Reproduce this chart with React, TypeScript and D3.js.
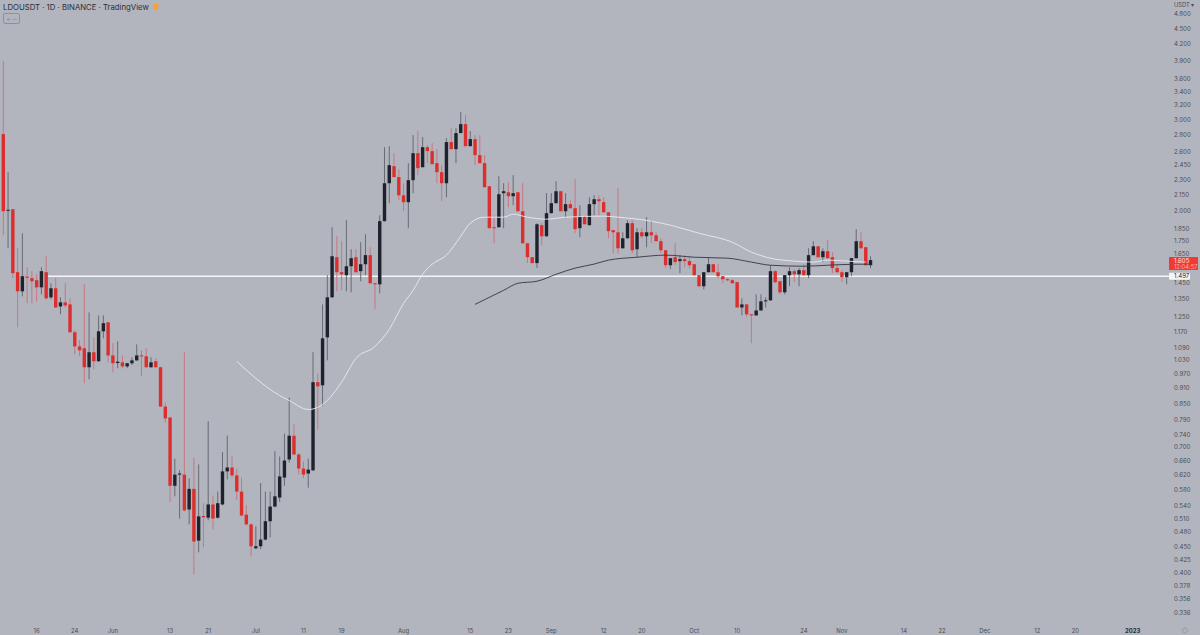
import React from "react";
import * as d3 from "d3";

const opens = [2.815,2.003,2.016,1.524,1.400,1.494,1.484,1.471,1.425,1.524,1.363,1.419,1.309,1.333,1.321,1.167,1.096,1.087,0.999,1.068,1.026,1.172,1.220,1.053,1.018,1.021,1.003,1.017,1.030,1.053,1.049,0.999,1.026,0.999,0.839,0.799,0.590,0.620,0.620,0.531,0.582,0.4625,0.516,0.512,0.543,0.512,0.543,0.629,0.640,0.618,0.575,0.519,0.497,0.447,0.451,0.4646,0.504,0.538,0.560,0.612,0.663,0.737,0.678,0.637,0.623,0.632,0.935,0.922,1.141,1.363,1.629,1.524,1.504,1.565,1.629,1.531,1.579,1.644,1.451,1.444,1.912,2.263,2.441,2.325,2.145,2.080,2.294,2.586,2.430,2.656,2.610,2.474,2.377,2.263,2.717,2.633,2.828,2.943,2.668,2.753,2.564,2.474,2.233,1.861,1.861,2.165,2.174,2.136,2.174,1.998,1.733,1.629,1.587,1.878,1.788,1.981,2.071,2.184,1.998,2.062,2.025,1.853,1.955,1.878,2.062,2.108,2.080,1.989,1.837,1.820,1.695,1.772,1.895,1.688,1.820,1.788,1.820,1.796,1.749,1.680,1.572,1.629,1.601,1.615,1.601,1.579,1.504,1.432,1.524,1.579,1.524,1.497,1.477,1.471,1.458,1.303,1.321,1.264,1.258,1.286,1.339,1.345,1.531,1.464,1.394,1.504,1.531,1.510,1.538,1.504,1.644,1.710,1.629,1.673,1.629,1.552,1.524,1.491,1.524,1.622,1.749,1.703,1.572];
const highs = [3.894,2.377,2.018,1.695,1.812,1.558,1.531,1.510,1.558,1.636,1.451,1.484,1.363,1.451,1.357,1.177,1.126,1.444,1.275,1.141,1.258,1.258,1.222,1.111,1.121,1.053,1.019,1.044,1.106,1.077,1.087,1.044,1.039,1.001,0.854,0.801,0.666,0.632,1.068,0.610,0.669,0.649,0.546,0.786,0.565,0.575,0.685,0.737,0.675,0.637,0.612,0.541,0.499,0.493,0.597,0.575,0.575,0.688,0.672,0.744,0.873,0.775,0.682,0.657,0.666,1.068,0.973,1.321,1.504,1.861,1.788,1.749,1.920,1.688,1.688,1.741,1.804,1.703,1.453,1.963,2.656,2.668,2.586,2.409,2.263,2.474,2.803,2.853,2.778,2.680,2.705,2.633,2.452,2.765,2.891,2.891,3.105,3.063,2.853,2.803,2.803,2.564,2.235,1.963,2.335,2.263,2.274,2.346,2.176,2.263,1.735,1.631,1.895,1.895,2.165,2.165,2.284,2.186,2.165,2.098,2.304,2.053,1.957,2.126,2.145,2.145,2.126,1.991,1.839,2.214,1.820,1.920,1.920,1.853,1.853,1.946,1.920,1.820,1.772,1.682,1.624,1.733,1.644,1.644,1.636,1.581,1.506,1.526,1.629,1.581,1.579,1.499,1.484,1.477,1.460,1.357,1.323,1.266,1.381,1.381,1.363,1.572,1.538,1.466,1.506,1.558,1.545,1.552,1.579,1.695,1.749,1.712,1.695,1.757,1.666,1.579,1.538,1.526,1.624,1.845,1.820,1.705,1.636];
const lows = [1.796,1.695,1.484,1.193,1.369,1.327,1.327,1.339,1.381,1.350,1.351,1.300,1.264,1.303,1.165,1.058,1.049,0.930,0.947,0.990,1.024,1.136,1.021,0.977,0.995,0.995,0.995,1.008,1.028,0.960,0.997,0.997,0.997,0.837,0.782,0.549,0.563,0.510,0.526,0.497,0.398,0.439,0.449,0.506,0.486,0.510,0.541,0.607,0.612,0.5535,0.515,0.495,0.431,0.445,0.445,0.463,0.469,0.536,0.549,0.590,0.654,0.676,0.620,0.610,0.585,0.630,0.758,0.843,1.030,1.360,1.400,1.406,1.400,1.394,1.522,1.464,1.504,1.449,1.292,1.387,1.910,2.071,2.323,2.098,1.998,1.853,2.165,2.346,2.428,2.474,2.461,2.263,2.089,2.126,2.631,2.474,2.826,2.666,2.666,2.452,2.472,2.221,1.851,1.733,1.859,1.853,2.034,2.053,1.996,1.731,1.587,1.585,1.552,1.718,1.786,1.979,2.069,1.996,1.946,2.023,1.812,1.780,1.884,1.876,1.963,1.963,1.987,1.772,1.658,1.658,1.693,1.770,1.658,1.629,1.772,1.703,1.733,1.747,1.658,1.552,1.545,1.572,1.518,1.558,1.552,1.502,1.425,1.412,1.522,1.522,1.484,1.451,1.464,1.449,1.301,1.258,1.252,1.111,1.256,1.284,1.303,1.343,1.451,1.381,1.381,1.432,1.458,1.432,1.502,1.484,1.642,1.627,1.594,1.620,1.518,1.522,1.458,1.444,1.497,1.620,1.693,1.570,1.552];
const closes = [1.998,2.011,1.518,1.400,1.497,1.487,1.464,1.425,1.531,1.357,1.419,1.303,1.333,1.315,1.167,1.096,1.077,0.999,1.068,1.026,1.172,1.215,1.053,1.017,1.024,1.003,1.017,1.030,1.053,1.049,0.999,1.021,0.999,0.839,0.796,0.590,0.620,0.623,0.529,0.582,0.4605,0.515,0.513,0.543,0.510,0.546,0.629,0.640,0.618,0.575,0.517,0.497,0.451,0.451,0.4646,0.504,0.538,0.563,0.615,0.660,0.737,0.678,0.637,0.620,0.634,0.935,0.918,1.136,1.363,1.636,1.524,1.510,1.565,1.622,1.524,1.579,1.644,1.451,1.444,1.912,2.263,2.452,2.325,2.145,2.080,2.294,2.586,2.420,2.656,2.610,2.463,2.377,2.263,2.717,2.633,2.828,2.943,2.668,2.753,2.564,2.474,2.223,1.853,1.853,2.155,2.184,2.136,2.165,1.998,1.733,1.629,1.587,1.886,1.788,1.981,2.071,2.184,1.998,2.062,2.025,1.845,1.955,1.886,2.062,2.108,2.089,1.989,1.829,1.820,1.695,1.772,1.895,1.680,1.820,1.788,1.820,1.796,1.749,1.680,1.572,1.622,1.594,1.615,1.601,1.572,1.504,1.432,1.524,1.579,1.524,1.497,1.477,1.471,1.451,1.303,1.321,1.264,1.258,1.286,1.339,1.345,1.531,1.458,1.394,1.504,1.531,1.510,1.538,1.504,1.644,1.710,1.629,1.673,1.622,1.552,1.524,1.491,1.524,1.622,1.749,1.695,1.572,1.608];

const maFastDays = [49,53,58,60,64,66,68,71,74,78,81,84,86,88,90,93,96,98,101,105,107,110,114,118,126,129,136,140,146,153,157,161,166,170,173,177,181];
const maFastValues = [1.026,0.951,0.881,0.862,0.828,0.836,0.862,0.935,1.039,1.096,1.182,1.327,1.406,1.510,1.579,1.644,1.788,1.895,1.946,1.946,1.972,1.946,1.929,1.946,1.955,1.946,1.912,1.878,1.812,1.741,1.666,1.622,1.601,1.594,1.608,1.601,1.594];
const maSlowDays = [99,102,105,108,112,116,120,124,127,133,139,145,152,157,161,168,173,179,182];
const maSlowValues = [1.321,1.363,1.406,1.451,1.464,1.510,1.552,1.580,1.608,1.629,1.644,1.629,1.622,1.594,1.572,1.565,1.572,1.579,1.579];

const priceTicks = [4.8,4.5,4.2,3.9,3.6,3.4,3.2,3.0,2.8,2.6,2.45,2.3,2.15,2.0,1.85,1.75,1.65,1.45,1.35,1.25,1.17,1.09,1.03,0.97,0.91,0.85,0.79,0.74,0.7,0.66,0.62,0.58,0.54,0.51,0.48,0.45,0.425,0.4,0.378,0.356,0.336];
const dateLabels: [string, string, boolean][] = [
  ["2022-05-16","16",false],["2022-05-24","24",false],["2022-06-01","Jun",false],["2022-06-13","13",false],["2022-06-21","21",false],["2022-07-01","Jul",false],["2022-07-11","11",false],["2022-07-19","19",false],["2022-08-01","Aug",false],["2022-08-15","15",false],["2022-08-23","23",false],["2022-09-01","Sep",false],["2022-09-12","12",false],["2022-09-20","20",false],["2022-10-01","Oct",false],["2022-10-10","10",false],["2022-10-24","24",false],["2022-11-01","Nov",false],["2022-11-14","14",false],["2022-11-22","22",false],["2022-12-01","Dec",false],["2022-12-12","12",false],["2022-12-20","20",false],["2023-01-01","2023",true],
];
const firstDay = new Date(Date.UTC(2022, 4, 9));
const horizontalLevel = 1.497;
const lastPrice = 1.605;

const BG = "#b2b5be", UP = "#1e222d", DOWN = "#dd2e2e", FONT = "Inter, Roboto, sans-serif";
const x = d3.scaleUtc().domain([firstDay, new Date(Date.UTC(2023, 0, 1))]).range([3.3, 1132.6]);
const y = d3.scaleLog().domain([4.8, 0.336]).range([14, 612.5]);
const dayX = (i: number) => x(d3.utcDay.offset(firstDay, i));
const linePath = (days: number[], vals: number[]) =>
  d3.line<number>().x((d) => dayX(d)).y((_, k) => y(vals[k])).curve(d3.curveMonotoneX)(days);

export default function App() {
  const levelY = y(horizontalLevel);
  return (
    <svg width={1200} height={635} style={{ position: "fixed", left: 0, top: 0, background: BG, fontFamily: FONT }}>
      <rect width={1200} height={635} fill={BG} />
      <line x1={48} x2={1170} y1={levelY} y2={levelY} stroke="#f4f5f7" strokeWidth={1.6} />
      {opens.map((o, i) => {
        const c = closes[i];
        const up = c >= o;
        const cx = dayX(i);
        const top = y(Math.max(o, c));
        const bot = y(Math.min(o, c));
        return (
          <g key={i}>
            <line x1={cx} x2={cx} y1={y(highs[i])} y2={y(lows[i])} stroke={up ? "#5f626c" : "#c8707a"} strokeWidth={0.9} />
            <rect x={cx - 1.7} y={top} width={3.4} height={Math.max(bot - top, 1)} fill={up ? UP : DOWN} />
          </g>
        );
      })}
      <path d={linePath(maFastDays, maFastValues) ?? ""} fill="none" stroke="#e9ebef" strokeWidth={0.9} />
      <path d={linePath(maSlowDays, maSlowValues) ?? ""} fill="none" stroke="#33363f" strokeWidth={0.9} />

      <text x={3} y={9.5} fontSize={7.75} fill="#2a2e39">LDOUSDT · 1D · BINANCE · TradingView</text>
      <rect x={153.2} y={3.7} width={5.2} height={5.2} rx={0.8} fill="#f7a035" />
      <rect x={3.5} y={13.5} width={16} height={10} rx={1.5} fill="none" stroke="#83868f" strokeWidth={0.8} />
      <text x={11.5} y={20.5} fontSize={5} textAnchor="middle" fill="#83868f">← ⇠</text>

      {priceTicks.map((p) => (
        <text key={p} x={1174} y={y(p) + 2} fontSize={6.1} fill="#4a4d57">{p.toFixed(3)}</text>
      ))}
      <text x={1174} y={7} fontSize={5.8} fill="#4a4d57">USDT ▾</text>

      <rect x={1169} y={257} width={29} height={13} fill="#f23a30" />
      <text x={1174} y={262.8} fontSize={6.1} fill="#fde3df">{lastPrice.toFixed(3)}</text>
      <text x={1174} y={268.8} fontSize={5.8} fill="#f9b0a8">12:04:57</text>
      <rect x={1169} y={levelY - 3.5} width={21} height={7} rx={0.8} fill="#f4f5f7" />
      <text x={1174} y={levelY + 2} fontSize={6.1} fill="#1e222d">{horizontalLevel.toFixed(3)}</text>

      {dateLabels.map(([d, t, bold]) => (
        <text key={d} x={x(new Date(d + "T00:00:00Z"))} y={633} fontSize={5.9} textAnchor="middle" fontWeight={bold ? 700 : 400} fill={bold ? "#2a2e39" : "#4a4d57"}>{t}</text>
      ))}
      <circle cx={1185} cy={630.5} r={2.4} fill="none" stroke="#83868f" strokeWidth={0.8} strokeDasharray="1.4 0.5" />
    </svg>
  );
}
